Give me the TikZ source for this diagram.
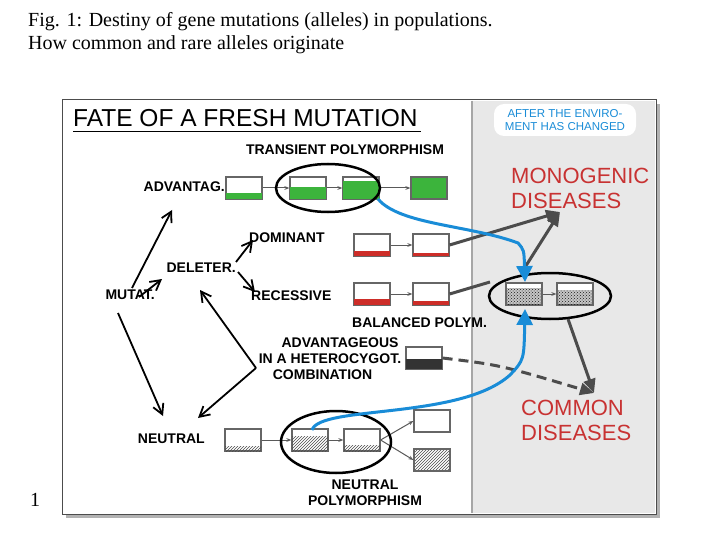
\documentclass[tikz,border=0pt]{standalone}
\usepackage{fontspec}
\setmainfont{Liberation Serif}
\newfontfamily\lsans{Liberation Sans}
\usetikzlibrary{patterns,arrows.meta}
\definecolor{gfill}{RGB}{60,180,60}
\definecolor{rfill}{RGB}{205,45,40}
\definecolor{bl}{RGB}{25,140,215}
\definecolor{dred}{RGB}{200,50,50}
\begin{document}
\begin{tikzpicture}[x=1pt,y=-1pt,
 lab/.style={font=\lsans\bfseries\fontsize{14}{16}\selectfont,inner sep=0pt,align=center},
 abox/.style={draw=gray!80!black,line width=1.2pt,fill=white,minimum width=36pt,minimum height=22pt,inner sep=0pt},
 link/.style={-{Stealth[length=5pt]},gray!70!black,line width=1pt},
 barr/.style={-{Straight Barb[length=10pt,width=11pt]},line width=1.8pt},
 garr/.style={-{Triangle[length=14pt,width=12pt]},gray!60!black,line width=3pt},
 blarr/.style={-{Triangle[length=16pt,width=16pt]},bl,line width=3pt},
 ell/.style={draw,line width=2.5pt}]
\useasboundingbox (0,0) rectangle (720,540);
\fill[white] (0,0) rectangle (720,540);
\node[anchor=north west,font=\fontsize{20}{23}\selectfont,align=left,inner sep=0pt] (cap) at (28,12) {Fig. 1: Destiny of gene mutations (alleles) in populations.\\How common and rare alleles originate};
\node[anchor=west,font=\fontsize{20}{23}\selectfont,inner sep=0pt] (num) at (30,500) {1};
% panel
\fill[gray!60] (66,104) rectangle (660,518);
\draw[gray!60!black,line width=1pt,fill=white] (62,100) rectangle (656,514);
\fill[gray!18] (472,101) rectangle (655,513);
\draw[gray!70,line width=1.5pt] (472,101) -- (472,513);
\node[anchor=west,font=\lsans\fontsize{24.5}{26}\selectfont,inner sep=0pt] (title) at (73,118) {FATE OF A FRESH MUTATION};
\draw[line width=1pt] (73,132) -- (421,132);
% blue note
\fill[white,rounded corners=10pt] (494,104) rectangle (636,136);
\node[lab,font=\lsans\fontsize{11.5}{13}\selectfont,text=bl] (note) at (565,120) {AFTER THE ENVIRO-\\MENT HAS CHANGED};
\node[lab,font=\lsans\fontsize{22}{25}\selectfont,text=dred,align=left,anchor=west] (mono) at (511,188) {MONOGENIC\\DISEASES};
\node[lab,font=\lsans\fontsize{22}{25}\selectfont,text=dred,align=left,anchor=west] (comm) at (521,420) {COMMON\\DISEASES};
% labels
\node[lab] (trans) at (345,150) {TRANSIENT POLYMORPHISM};
\node[lab,anchor=east] (adv) at (225,187) {ADVANTAG.};
\node[lab,anchor=west] (dom) at (249,238) {DOMINANT};
\node[lab,anchor=east] (del) at (236,268) {DELETER.};
\node[lab,anchor=west] (rec) at (251,296) {RECESSIVE};
\node[lab,anchor=east] (mut) at (155,295) {MUTAT.};
\node[lab,anchor=west] (bal) at (352,323) {BALANCED POLYM.};
\node[lab] (het) at (330,359) {\hspace*{20pt}ADVANTAGEOUS\\IN A HETEROCYGOT.\\COMBINATION\hspace*{15pt}};
\node[lab,anchor=east] (neu) at (205,439) {NEUTRAL};
\node[lab] (npol) at (365,493) {NEUTRAL\\POLYMORPHISM};
% advantag row
\node[abox] (a1) at (244,188) {}; \fill[gfill] (226,193) rectangle (262,199);
\node[abox] (a2) at (308,188) {}; \fill[gfill] (290,187) rectangle (326,199);
\node[abox] (a3) at (361,188) {}; \fill[gfill] (343,181) rectangle (379,199);
\node[abox,fill=gfill] (a4) at (429,188) {};
\draw[link] (a1) -- (a2); \draw[link] (a2) -- (a3); \draw[link] (a3) -- (a4);
\draw[ell] (328,188) ellipse (52 and 24);
% dominant row
\node[abox] (d1) at (372,245) {}; \fill[rfill] (354,251) rectangle (390,256);
\node[abox] (d2) at (431,245) {}; \fill[rfill] (413,253) rectangle (449,256);
\draw[link] (d1) -- (d2);
\node[abox] (r1) at (372,294) {}; \fill[rfill] (354,299) rectangle (390,305);
\node[abox] (r2) at (431,294) {}; \fill[rfill] (413,301) rectangle (449,305);
\draw[link] (r1) -- (r2);
% heterocygot box
\node[abox] (h1) at (424,358) {}; \fill[gray!40!black] (406,359) rectangle (442,369);
% neutral row
\node[abox] (n1) at (243,440) {}; \fill[pattern=north east lines,pattern color=gray!60!black] (225,446) rectangle (261,451);
\node[abox] (n2) at (310,440) {}; \fill[pattern=north east lines,pattern color=gray!60!black] (292,436) rectangle (328,451);
\node[abox] (n3) at (362,440) {}; \fill[pattern=north east lines,pattern color=gray!60!black] (344,445) rectangle (380,451);
\node[abox] (n4) at (432,421) {};
\node[abox,pattern=north east lines,pattern color=gray!60!black] (n5) at (432,460) {};
\draw[link] (n1) -- (n2); \draw[link] (n2) -- (n3);
\draw[link] (n3.east) -- (n4.west); \draw[link] (n3.east) -- (n5.west);
\draw[ell] (336,442) ellipse (55 and 31);
% balanced
\node[abox,fill=gray!45] (b1) at (524,294) {}; \fill[white] (507,284) rectangle (541,288);
\node[abox,fill=gray!45] (b2) at (575,294) {}; \fill[white] (558,284) rectangle (592,290);
\fill[pattern=crosshatch dots,pattern color=gray!20!black] (507,288) rectangle (541,304);
\fill[pattern=crosshatch dots,pattern color=gray!20!black] (558,290) rectangle (592,304);
\draw[link] (b1) -- (b2);
\draw[ell] (550,296) ellipse (61 and 23);
% black arrows
\coordinate (m1) at (132,288); \coordinate (v) at (256,368);
\draw[barr] (m1) -- (172,210);
\draw[barr] (139,297) -- (162,279);
\draw[barr] (236,262) -- (253,240);
\draw[barr] (238,272) -- (255,292);
\draw[barr] (118,313) -- (163,416);
\draw[barr] (v) -- (200,290);
\draw[barr] (v) -- (198,418);
% gray arrows
\draw[garr] (d2.east) -- (560,212);
\draw[gray!60!black,line width=3pt] (r2.east) -- (490,282);
\draw[garr] (522,272) -- (560,212);
\draw[garr] (568,319) -- (594,393);
\draw[garr,dashed,dash pattern=on 10pt off 6pt] (h1.east) .. controls (500,365) .. (594,393);
% blue curves
\draw[blarr] (378,199) .. controls (400,225) and (470,225) .. (518,243) .. controls (524,250) .. (525,282);
\draw[blarr] (312,430) .. controls (320,405) and (460,420) .. (510,375) .. controls (524,360) .. (525,309);
\end{tikzpicture}
\end{document}
